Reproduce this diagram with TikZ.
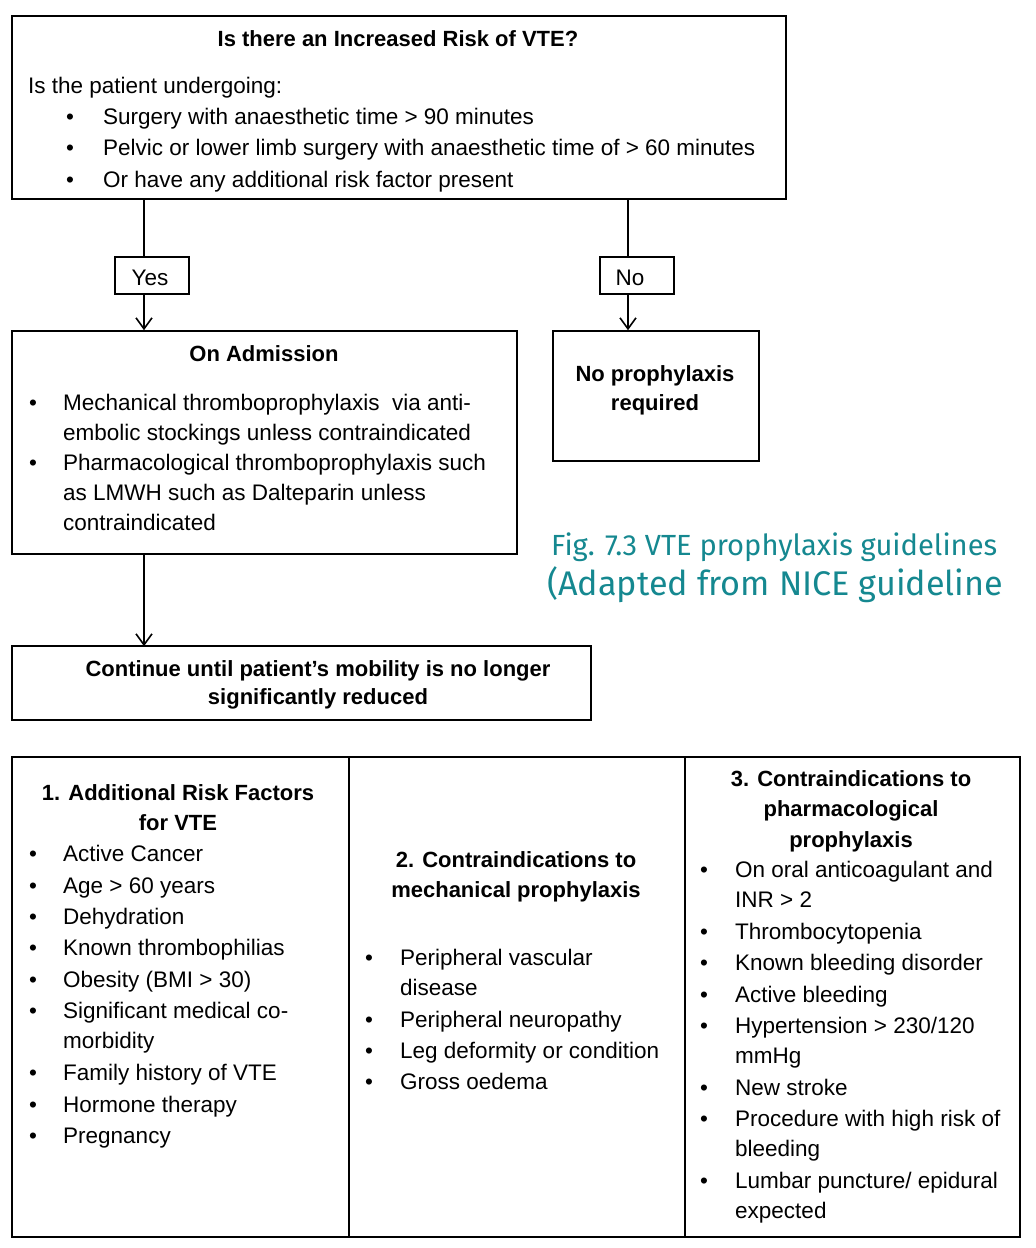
\documentclass[tikz,border=0pt]{standalone}
\usepackage{fontspec}
\setmainfont{Liberation Sans}
\newfontfamily\capfont{Fira Sans}
\usetikzlibrary{arrows.meta}
\definecolor{capteal}{HTML}{158890}
\newcommand{\itm}[5]{\node[bul] (#1b) at (#2,#4) {\textbullet}; \node[txt] (#1) at (#3,#4) {#5};}
\begin{document}
\begin{tikzpicture}[x=1pt,y=-1pt,
  box/.style={draw, line width=1.6pt, rectangle, inner sep=0pt},
  tbox/.style={draw, line width=2.2pt, rectangle, inner sep=0pt},
  txt/.style={anchor=base west, inner sep=0pt, font=\fontsize{22.5}{26}\selectfont},
  ttl/.style={anchor=base, inner sep=0pt, font=\fontsize{22}{26}\selectfont\bfseries},
  bul/.style={anchor=base, inner sep=0pt, font=\fontsize{22.5}{26}\selectfont},
  arr/.style={line width=1.6pt, -{Straight Barb[length=11pt,width=16pt,line width=1.6pt]}},
  ln/.style={line width=1.6pt}]
\useasboundingbox (0,0) rectangle (1036,1248);
% boxes
\node[box, minimum width=774pt, minimum height=183pt] (q) at (399,107.5) {};
\node[box, minimum width=74pt, minimum height=37pt] (yes) at (152,275.5) {};
\node[box, minimum width=74pt, minimum height=37pt] (no) at (637,275.5) {};
\node[box, minimum width=505pt, minimum height=223pt] (adm) at (264.5,442.5) {};
\node[box, minimum width=206pt, minimum height=130pt] (nop) at (656,396) {};
\node[box, minimum width=579pt, minimum height=74pt] (cont) at (301.5,683) {};
\node[tbox, minimum width=337pt, minimum height=480pt] (c1) at (180.5,997) {};
\node[tbox, minimum width=336pt, minimum height=480pt] (c2) at (517,997) {};
\node[tbox, minimum width=335pt, minimum height=480pt] (c3) at (852.5,997) {};
% connectors
\coordinate (yx) at (144,0);
\coordinate (nx) at (628,0);
\draw[ln] (yx |- q.south) -- (yx |- yes.north);
\draw[arr] (yx |- yes.south) -- (yx |- adm.north);
\draw[ln] (nx |- q.south) -- (nx |- no.north);
\draw[arr] (nx |- no.south) -- (nx |- nop.north);
\draw[arr] (yx |- adm.south) -- ([yshift=-1pt]yx |- cont.north);
% top box text
\node[ttl] (qt) at (398,46) {Is there an Increased Risk of VTE?};
\node[txt] (qi) at (28,93) {Is the patient undergoing:};
\itm{q1}{70}{103}{124}{Surgery with anaesthetic time > 90 minutes}
\itm{q2}{70}{103}{155}{Pelvic or lower limb surgery with anaesthetic time of > 60 minutes}
\itm{q3}{70}{103}{187}{Or have any additional risk factor present}
\node[bul] (yt) at (150,285) {Yes};
\node[bul] (nt) at (630,285) {No};
% admission
\node[ttl] (at) at (264,361) {On Admission};
\itm{a1}{33}{63}{410}{Mechanical thromboprophylaxis\ \ via anti-}
\node[txt] (a1c) at (63,440) {embolic stockings unless contraindicated};
\itm{a2}{33}{63}{470}{Pharmacological thromboprophylaxis such}
\node[txt] (a2c) at (63,500) {as LMWH such as Dalteparin unless};
\node[txt] (a2d) at (63,530) {contraindicated};
% no prophylaxis
\node[ttl] (np1) at (655,381) {No prophylaxis};
\node[ttl] (np2) at (655,410) {required};
% continue
\node[ttl] (ct1) at (318,676) {Continue until patient’s mobility is no longer};
\node[ttl] (ct2) at (318,704) {significantly reduced};
% caption
\node[anchor=base west, inner sep=0pt, text=capteal] (cap1) at (551,555) {\resizebox{446pt}{!}{\capfont Fig. 7.3 VTE prophylaxis guidelines}};
\node[anchor=base west, inner sep=0pt, text=capteal] (cap2) at (547,595) {\resizebox{456pt}{!}{\capfont (Adapted from NICE guideline}};
% column 1
\node[ttl] (h1a) at (178,800) {1. Additional Risk Factors};
\node[ttl] (h1b) at (178,830) {for VTE};
\itm{r1}{33}{63}{861}{Active Cancer}
\itm{r2}{33}{63}{893}{Age > 60 years}
\itm{r3}{33}{63}{924}{Dehydration}
\itm{r4}{33}{63}{955}{Known thrombophilias}
\itm{r5}{33}{63}{987}{Obesity (BMI > 30)}
\itm{r6}{33}{63}{1018}{Significant medical co-}
\node[txt] (r6c) at (63,1048) {morbidity};
\itm{r7}{33}{63}{1080}{Family history of VTE}
\itm{r8}{33}{63}{1112}{Hormone therapy}
\itm{r9}{33}{63}{1143}{Pregnancy}
% column 2
\node[ttl] (h2a) at (516,867) {2. Contraindications to};
\node[ttl] (h2b) at (516,897) {mechanical prophylaxis};
\itm{m1}{369}{400}{965}{Peripheral vascular}
\node[txt] (m1c) at (400,995) {disease};
\itm{m2}{369}{400}{1027}{Peripheral neuropathy}
\itm{m3}{369}{400}{1058}{Leg deformity or condition}
\itm{m4}{369}{400}{1089}{Gross oedema}
% column 3
\node[ttl] (h3a) at (851,786) {3. Contraindications to};
\node[ttl] (h3b) at (851,816) {pharmacological};
\node[ttl] (h3c) at (851,847) {prophylaxis};
\itm{p1}{704}{735}{877}{On oral anticoagulant and}
\node[txt] (p1c) at (735,907) {INR > 2};
\itm{p2}{704}{735}{939}{Thrombocytopenia}
\itm{p3}{704}{735}{970}{Known bleeding disorder}
\itm{p4}{704}{735}{1002}{Active bleeding}
\itm{p5}{704}{735}{1033}{Hypertension > 230/120}
\node[txt] (p5c) at (735,1063) {mmHg};
\itm{p6}{704}{735}{1095}{New stroke}
\itm{p7}{704}{735}{1126}{Procedure with high risk of}
\node[txt] (p7c) at (735,1156) {bleeding};
\itm{p8}{704}{735}{1188}{Lumbar puncture/ epidural}
\node[txt] (p8c) at (735,1218) {expected};
\end{tikzpicture}
\end{document}
